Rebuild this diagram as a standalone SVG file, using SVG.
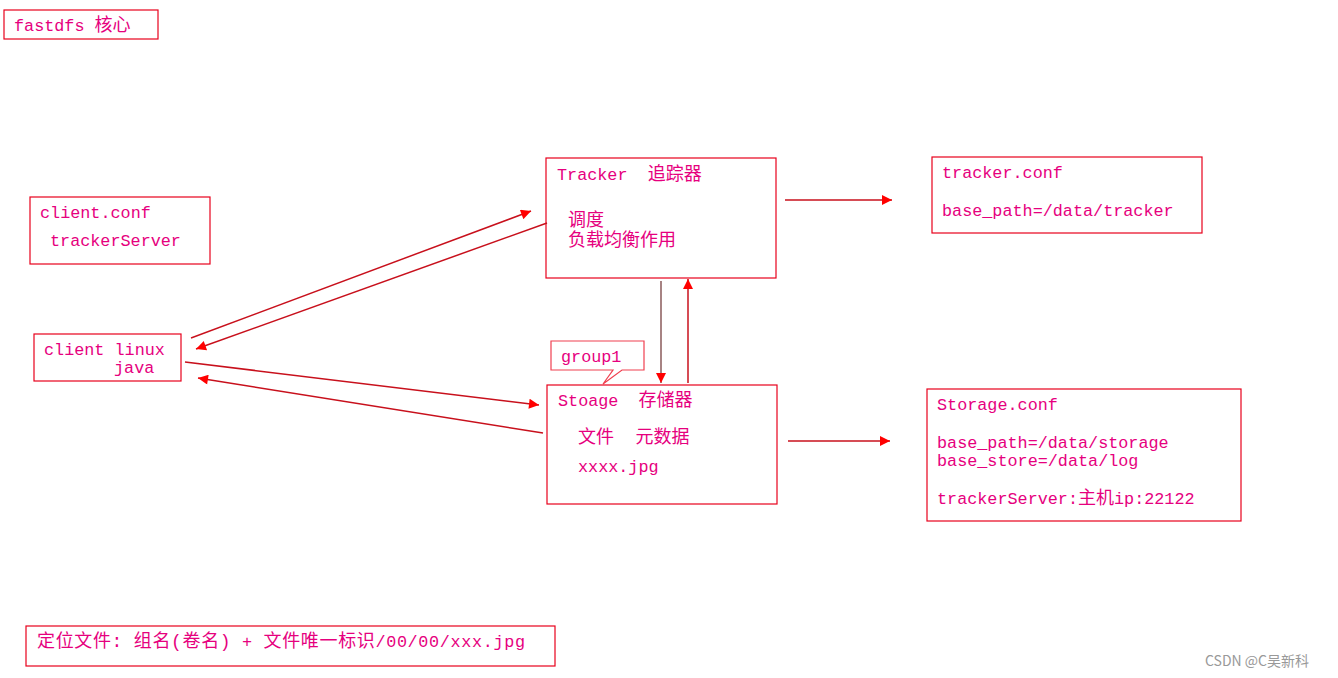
<svg xmlns="http://www.w3.org/2000/svg" width="1338" height="678" viewBox="0 0 1338 678" xml:space="preserve">
<style>
.b{fill:#fff;stroke:#e8001c;stroke-width:1.2}
.t{font-family:"Liberation Mono","Noto Sans CJK SC",monospace;font-size:16.8px;fill:#e6007e;white-space:pre}
.z{font-size:18px}
.c{stroke:#c8101c;stroke-width:1.5;fill:none}
.w{font-family:"Noto Sans CJK SC",sans-serif;font-size:14px;fill:#999}
</style>
<defs><marker id="a" viewBox="0 0 10 10" refX="10" refY="5" markerWidth="20" markerHeight="10" markerUnits="userSpaceOnUse" orient="auto"><path d="M0,0L10,5L0,10z" fill="#ff0000"/></marker></defs>
<rect width="1338" height="678" fill="#fff"/>
<g id="title"><rect class="b" x="4" y="10" width="154" height="29"/><text class="t" x="14" y="31">fastdfs <tspan class="z">核心</tspan></text></g>
<g id="clientconf"><rect class="b" x="30" y="197" width="180" height="67"/><text class="t" x="40" y="218">client.conf</text><text class="t" x="50" y="246">trackerServer</text></g>
<g id="client"><rect class="b" x="34" y="334" width="147" height="47"/><text class="t" x="44" y="355">client linux</text><text class="t" x="114" y="373">java</text></g>
<g id="tracker"><rect class="b" x="546" y="158" width="230" height="120"/><text class="t" x="557" y="180">Tracker  <tspan class="z">追踪器</tspan></text><text class="t z" x="568" y="226">调度</text><text class="t z" x="568" y="246">负载均衡作用</text></g>
<g id="trackerconf"><rect class="b" x="932" y="157" width="270" height="76"/><text class="t" x="942" y="178">tracker.conf</text><text class="t" x="942" y="216">base_path=/data/tracker</text></g>
<g id="group1"><path d="M551,341H644V370H622L603,384L613,370H551Z" fill="#fff" stroke="#f04050" stroke-width="1.2"/><text class="t" x="561" y="362">group1</text></g>
<g id="storage"><rect class="b" x="547" y="385" width="230" height="119"/><text class="t" x="558" y="406">Stoage  <tspan class="z">存储器</tspan></text><text class="t z" x="578" y="443">文件  元数据</text><text class="t" x="578" y="472">xxxx.jpg</text></g>
<g id="storageconf"><rect class="b" x="927" y="389" width="314" height="132"/><text class="t" x="937" y="410">Storage.conf</text><text class="t" x="937" y="448">base_path=/data/storage</text><text class="t" x="937" y="466">base_store=/data/log</text><text class="t" x="937" y="504">trackerServer:<tspan class="z">主机</tspan>ip:22122</text></g>
<g id="locate"><rect class="b" x="26" y="626" width="529" height="40"/><text class="t" x="37" y="647" textLength="488" lengthAdjust="spacing"><tspan class="z">定位文件:</tspan> <tspan class="z">组名(卷名)</tspan> + <tspan class="z">文件唯一标识</tspan>/00/00/xxx.jpg</text></g>
<g id="connectors">
<line class="c" x1="191" y1="338" x2="531" y2="211" marker-end="url(#a)"/>
<line class="c" x1="547" y1="223" x2="196" y2="349" marker-end="url(#a)"/>
<line class="c" x1="185" y1="362" x2="539" y2="405" marker-end="url(#a)"/>
<line class="c" x1="543" y1="433" x2="198" y2="378" marker-end="url(#a)"/>
<line x1="661" y1="281" x2="661" y2="383" stroke="#8a5a5a" stroke-width="1.5" marker-end="url(#a)"/>
<line class="c" x1="688" y1="383" x2="688" y2="279" marker-end="url(#a)"/>
<line class="c" x1="785" y1="200" x2="892" y2="200" marker-end="url(#a)"/>
<line class="c" x1="788" y1="441" x2="890" y2="441" marker-end="url(#a)"/>
</g>
<text class="w" x="1205" y="666">CSDN @C吴新科</text>
</svg>
